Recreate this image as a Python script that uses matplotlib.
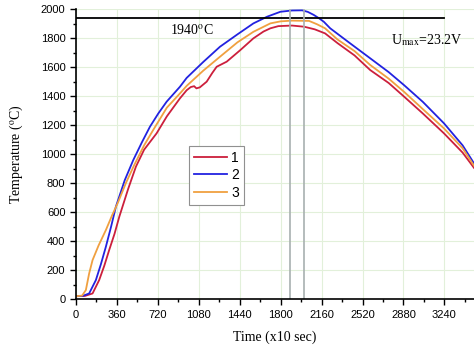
import matplotlib
matplotlib.use('Agg')
import matplotlib.pyplot as plt

plt.rcParams['mathtext.fontset'] = 'stix'

# time (x10 sec) and temperature (C) for the three runs
t1 = [0, 80, 147, 205, 250, 293, 340, 382, 460, 528, 600, 710, 800, 915, 974, 1010, 1040, 1060,
      1090, 1150, 1200, 1238, 1326, 1443, 1561, 1650, 1710, 1780, 1900, 2007, 2100, 2191, 2300,
      2450, 2588, 2750, 2884, 3050, 3236, 3400, 3500]
T1 = [20, 22, 39, 131, 230, 338, 450, 568, 760, 913, 1030, 1143, 1260, 1384, 1440, 1462, 1468, 1453,
      1460, 1499, 1560, 1602, 1637, 1715, 1798, 1845, 1867, 1882, 1886, 1878, 1860, 1832, 1765,
      1680, 1579, 1490, 1397, 1280, 1143, 1010, 905]

t2 = [0, 60, 117, 176, 220, 264, 310, 352, 430, 505, 580, 651, 725, 798, 915, 974, 1120, 1267,
      1420, 1561, 1681, 1798, 1900, 1990, 2040, 2092, 2140, 2180, 2236, 2400, 2588, 2750, 2884,
      3050, 3236, 3400, 3500]
T2 = [20, 22, 39, 131, 240, 361, 500, 637, 820, 959, 1080, 1188, 1280, 1361, 1464, 1525, 1635, 1740,
      1825, 1901, 1947, 1981, 1990, 1991, 1980, 1959, 1935, 1912, 1867, 1770, 1660, 1565, 1476,
      1360, 1212, 1060, 936]

t3 = [0, 55, 88, 117, 147, 200, 264, 320, 367, 440, 513, 600, 680, 800, 915, 974, 1120, 1267,
      1420, 1561, 1710, 1800, 1900, 2050, 2120, 2191, 2300, 2450, 2588, 2750, 2884, 3050, 3236,
      3400, 3500]
T3 = [20, 24, 62, 177, 269, 370, 476, 580, 660, 800, 924, 1060, 1166, 1320, 1418, 1470, 1575, 1671,
      1770, 1843, 1901, 1915, 1920, 1918, 1895, 1867, 1790, 1710, 1614, 1520, 1430, 1310, 1177,
      1040, 920]

labels = ['1', '2', '3']
colors = ['#cc1f3c', '#2222e0', '#f0a040']

limit_T = 1940
marks_t = [1880, 2005]

fig = plt.figure(figsize=(4.74, 3.47), dpi=100)
ax = fig.add_axes([0.160, 0.138, 0.840, 0.836])

# light green grid
ax.set_axisbelow(True)
ax.grid(True, color='#e2f0da', linewidth=0.8)

for t, T, lab, c in zip([t1, t2, t3], [T1, T2, T3], labels, colors):
    ax.plot(t, T, color=c, linewidth=1.3, label=lab)

ax.plot([0, 3240], [limit_T, limit_T], color='black', linewidth=1.3)
for m in marks_t:
    ax.axvline(m, ymax=0.995, color='#a8b0b0', linewidth=1.2)

ax.set_xlim(0, 3500)
ax.set_ylim(0, 2000)
ax.set_xticks(range(0, 3500, 360))
ax.set_xticks(range(180, 3500, 360), minor=True)
ax.set_yticks(range(0, 2001, 200))
ax.set_yticks(range(100, 2000, 200), minor=True)
ax.tick_params(which='major', length=4, width=1, labelsize=8)
ax.tick_params(which='minor', length=2.5, width=1)
for lbl in ax.get_xticklabels() + ax.get_yticklabels():
    lbl.set_fontfamily('Liberation Sans')

ax.spines['top'].set_visible(False)
ax.spines['right'].set_visible(False)
ax.spines['left'].set_linewidth(1.2)
ax.spines['bottom'].set_linewidth(1.2)

ax.set_xlabel('Time (x10 sec)', fontfamily='Liberation Serif', fontsize=10, labelpad=8)
ax.set_ylabel('Temperature ($^{\\rm o}$C)', fontfamily='Liberation Serif', fontsize=10, labelpad=11)

ax.text(830, 1830, '1940$^{\\rm o}$C', fontfamily='Liberation Serif', fontsize=10)
ax.text(2770, 1760, 'U$_{\\rm max}$=23.2V', fontfamily='Liberation Serif', fontsize=10)

leg = ax.legend(loc='upper left', bbox_to_anchor=(0.284, 0.528), borderaxespad=0,
                prop={'family': 'Liberation Sans', 'size': 10},
                fancybox=False, framealpha=1, edgecolor='#909090', handlelength=2.4,
                borderpad=0.35, labelspacing=0.25, handletextpad=0.3)
leg.get_frame().set_linewidth(0.8)

plt.savefig('out.png', dpi=100)
